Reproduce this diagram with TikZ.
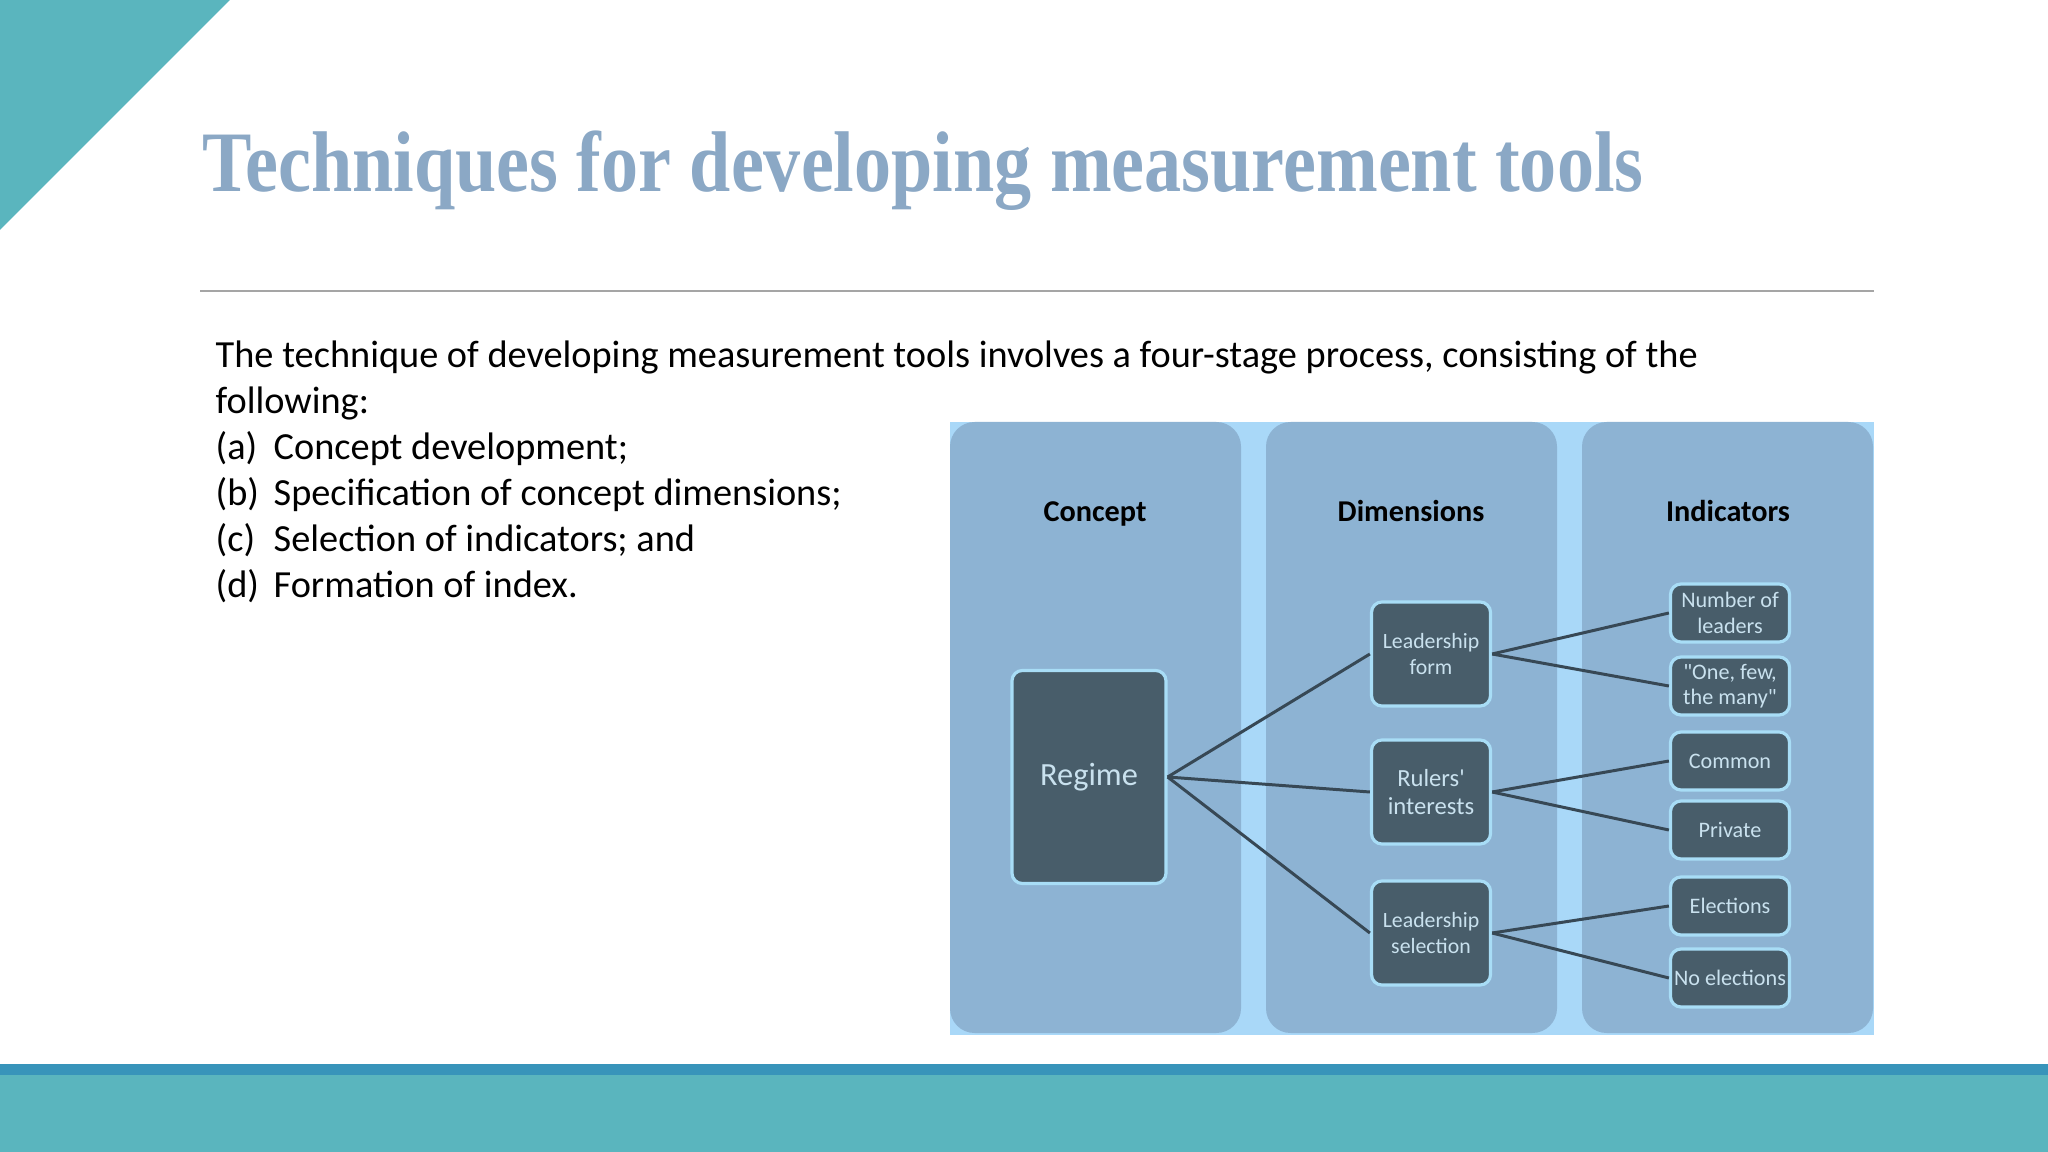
\documentclass[tikz,border=0pt]{standalone}
\usepackage{fontspec}
\setmainfont{Carlito}
\newfontfamily\titlefont{Liberation Serif}
\newfontfamily\boxfont{Carlito}
\usetikzlibrary{positioning}
\definecolor{tealband}{RGB}{90,181,190}
\definecolor{stripblue}{RGB}{56,148,186}
\definecolor{titleblue}{RGB}{139,168,197}
\definecolor{rulegray}{RGB}{165,165,165}
\definecolor{gapblue}{RGB}{169,216,248}
\definecolor{panelblue}{RGB}{141,179,211}
\definecolor{boxfill}{RGB}{72,93,106}
\definecolor{boxedge}{RGB}{168,221,246}
\definecolor{boxtext}{RGB}{201,225,238}
\definecolor{linkcolor}{RGB}{55,72,85}

\begin{document}
\begin{tikzpicture}[x=0.01cm,y=-0.01cm,
    bodytext/.style={anchor=base west,inner sep=0pt,font=\fontsize{10.9}{13}\selectfont},
    header/.style={anchor=base,font=\bfseries\fontsize{8.6}{10}\selectfont},
    box/.style={draw=boxedge,line width=0.9pt,fill=boxfill,rounded corners=3pt,
      text=boxtext,align=center,inner sep=0pt},
    dimbox/.style={box,minimum width=1.19cm,minimum height=1.04cm,font=\boxfont\fontsize{6.2}{7.2}\selectfont},
    indbox/.style={box,minimum width=1.19cm,minimum height=0.58cm,font=\boxfont\fontsize{6.3}{7.2}\selectfont},
    link/.style={draw=linkcolor,line width=0.85pt}]
  \useasboundingbox (0,0) rectangle (2048,1152);
  % slide decoration
  \fill[tealband] (0,0) -- (230,0) -- (0,230) -- cycle;
  \fill[tealband] (0,1074) rectangle (2048,1152);
  \fill[stripblue] (0,1064) rectangle (2048,1075);
  \node[anchor=base west,inner sep=0pt,text=titleblue,font=\titlefont\bfseries\fontsize{24.5}{29}\selectfont]
    (title) at (202,192) {\scalebox{0.86}[1]{Techniques for developing measurement tools}};
  \draw[rulegray,line width=0.6pt] (200,291) -- (1874,291);
  % body text
  \node[bodytext] (intro1) at (215,368) {The technique of developing measurement tools involves a four-stage process, consisting of the};
  \node[bodytext] (intro2) at (215,414) {following:};
  \foreach \ty/\lab/\txt in {460/a/{Concept development;},506/b/{Specification of concept dimensions;},
      551/c/{Selection of indicators; and},597/d/{Formation of index.}}
    \node[bodytext] (item\lab) at (215,\ty) {\makebox[16.5pt][l]{(\lab)}\txt};
  % diagram panels
  \fill[gapblue] (950,422) rectangle (1874,1035);
  \foreach \px in {950,1266,1582}
    \fill[panelblue,rounded corners=7pt] (\px,422) rectangle (\px+291,1033);
  \node[header] (hconcept) at (1095,522) {Concept};
  \node[header] (hdims) at (1411,522) {Dimensions};
  \node[header] (hinds) at (1728,522) {Indicators};
  \node[box,minimum width=1.54cm,minimum height=2.13cm,font=\boxfont\fontsize{9.2}{11}\selectfont]
    (regime) at (1089,777) {Regime};
  \node[dimbox] (form) at (1431,654) {Leadership\\form};
  \node[dimbox,font=\boxfont\fontsize{7}{8.2}\selectfont] (rulers) at (1431,792) {Rulers'\\interests};
  \node[dimbox] (select) at (1431,933) {Leadership\\selection};
  \foreach \n/\ty/\txt in {number/613/{Number of\\leaders},onefew/686/{"One, few,\\the many"},
      common/761/{Common},private/830/{Private},elect/906/{Elections},noelect/978/{No elections}}
    \node[indbox] (\n) at (1730,\ty) {\txt};
  \foreach \d in {form,rulers,select}
    \draw[link] (regime.east) -- (\d.west);
  \foreach \d/\i in {form/number,form/onefew,rulers/common,rulers/private,select/elect,select/noelect}
    \draw[link] (\d.east) -- (\i.west);
\end{tikzpicture}
\end{document}
